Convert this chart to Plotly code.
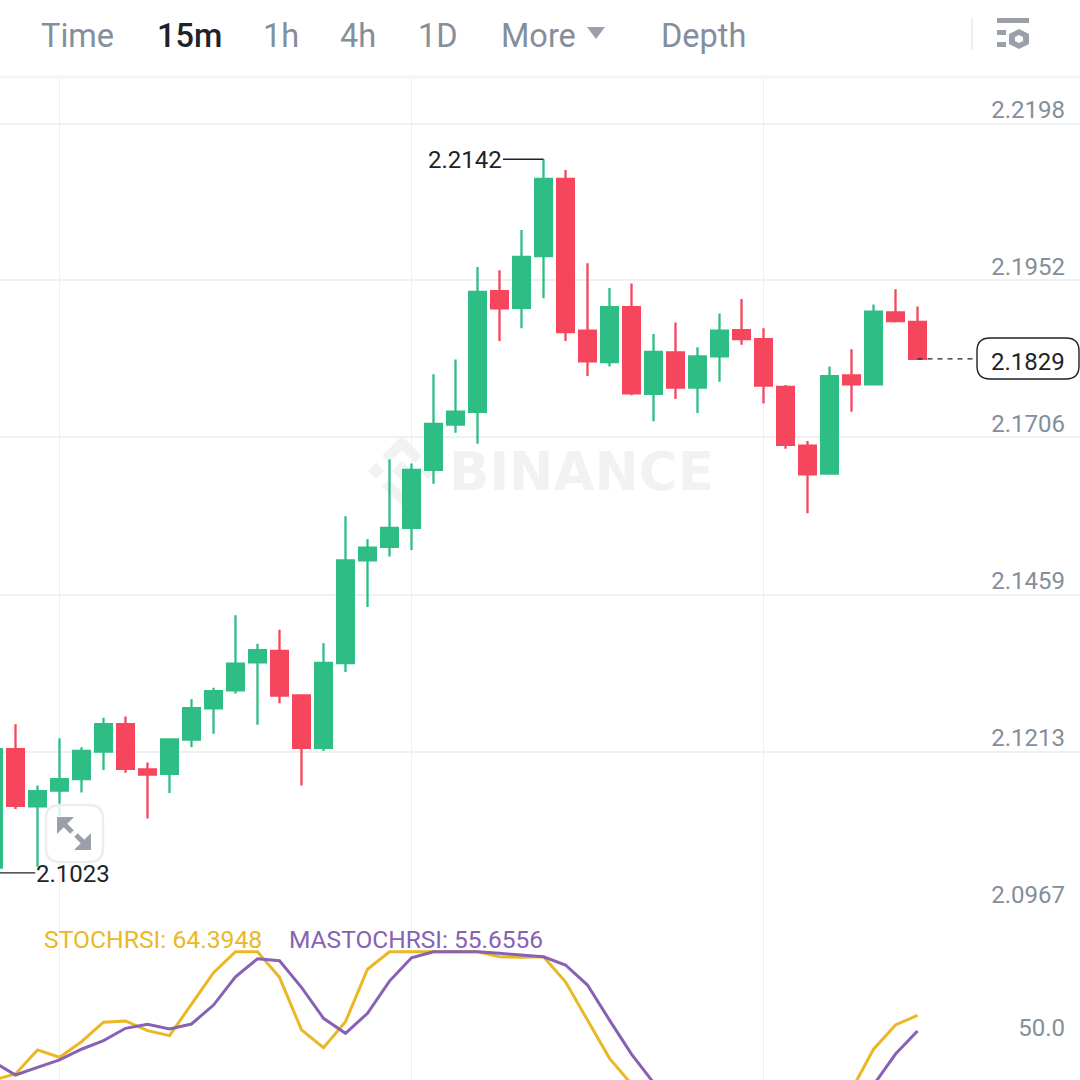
import plotly.graph_objects as go

opens = [2.1031, 2.1217, 2.1127, 2.1152, 2.1170, 2.1213, 2.1256, 2.1185, 2.1178, 2.1232, 2.1281,
         2.1309, 2.1353, 2.1371, 2.1301, 2.1219, 2.1352, 2.1513, 2.1534, 2.1564, 2.1655, 2.1726,
         2.1746, 2.1935, 2.1909, 2.1990, 2.2111, 2.1873, 2.1824, 2.1910, 2.1774, 2.1839, 2.1784,
         2.1833, 2.1874, 2.1860, 2.1785, 2.1693, 2.1649, 2.1803, 2.1789, 2.1902, 2.1887]
highs = [2.1225, 2.1256, 2.1160, 2.1234, 2.1220, 2.1266, 2.1268, 2.1196, 2.1233, 2.1295, 2.1313,
         2.1427, 2.1382, 2.1404, 2.1301, 2.1383, 2.1582, 2.1546, 2.1671, 2.1665, 2.1805, 2.1828,
         2.1973, 2.1968, 2.2031, 2.2142, 2.2125, 2.1979, 2.1940, 2.1947, 2.1868, 2.1886, 2.1847,
         2.1900, 2.1923, 2.1877, 2.1788, 2.1700, 2.1817, 2.1844, 2.1914, 2.1938, 2.1911]
lows = [2.1023, 2.1123, 2.1033, 2.1112, 2.1149, 2.1184, 2.1180, 2.1108, 2.1148, 2.1220, 2.1241,
        2.1304, 2.1255, 2.1289, 2.1160, 2.1214, 2.1338, 2.1440, 2.1519, 2.1529, 2.1633, 2.1713,
        2.1696, 2.1857, 2.1877, 2.1924, 2.1857, 2.1802, 2.1817, 2.1772, 2.1731, 2.1766, 2.1744,
        2.1793, 2.1851, 2.1759, 2.1688, 2.1587, 2.1649, 2.1746, 2.1789, 2.1886, 2.1829]
closes = [2.1217, 2.1128, 2.1151, 2.1170, 2.1214, 2.1256, 2.1186, 2.1177, 2.1232, 2.1281, 2.1308,
          2.1351, 2.1372, 2.1301, 2.1219, 2.1352, 2.1513, 2.1533, 2.1564, 2.1655, 2.1727, 2.1746,
          2.1934, 2.1908, 2.1989, 2.2111, 2.1871, 2.1825, 2.1910, 2.1775, 2.1840, 2.1784, 2.1833,
          2.1873, 2.1860, 2.1787, 2.1694, 2.1648, 2.1802, 2.1789, 2.1903, 2.1888, 2.1829]

stochrsi = [28.3, 31.7, 45.1, 41.0, 49.7, 60.6, 61.3, 55.9, 53.1, 70.8, 88.3, 100, 100, 85.7, 56.3,
            46.4, 60.9, 90.2, 100, 100, 100, 100, 100, 97.2, 96.9, 97.2, 83.2, 61.8, 40.4, 26.0,
            12.0, 5.0, 0, 0, 0, 0, 0, 0, 6.0, 22.7, 45.5, 59.1, 64.3948]
mastochrsi = [38.5, 31.1, 35.4, 39.5, 45.5, 50.3, 57.2, 59.4, 56.8, 59.6, 70.2, 86.0, 96.1, 95.0, 80.1,
              62.8, 54.4, 65.6, 83.6, 96.6, 100, 100, 100, 99.1, 98.2, 97.2, 92.6, 81.4, 61.8, 42.8,
              26.8, 14.0, 6.0, 2.0, 0, 0, 0, 2.0, 4.0, 12.0, 25.5, 42.8, 55.6556]

price_ticks = [2.2198, 2.1952, 2.1706, 2.1459, 2.1213, 2.0967]
price_labels = ["2.2198", "2.1952", "2.1706", "2.1459", "2.1213", "2.0967"]
time_grid = [3, 19, 35]
menu = [("Time", 78, False), ("15m", 189, True), ("1h", 281, False), ("4h", 358, False),
        ("1D", 438, False), ("More", 538, False), ("Depth", 703, False)]

GREEN = "#2EBD85"
RED = "#F6465D"
GREY = "#848E9C"
DARK = "#1E2329"
GRID = "#EFF0F2"
YELLOW = "#E9B824"
PURPLE = "#8762B3"
ICON = "#9A9FAA"
MARK = "#F1F2F2"
FONT = "Roboto"

x_idx = list(range(len(closes)))


# page pixels -> paper coordinates
def px(x):
    return x / 1080


def py(y):
    return 1 - y / 1080


def poly(points):
    return "M " + " L ".join(f"{px(x):.5f},{py(y):.5f}" for x, y in points) + " Z"


def round_rect(x0, y0, x1, y1, r):
    return (f"M {px(x0 + r):.5f},{py(y0):.5f} L {px(x1 - r):.5f},{py(y0):.5f} "
            f"Q {px(x1):.5f},{py(y0):.5f} {px(x1):.5f},{py(y0 + r):.5f} "
            f"L {px(x1):.5f},{py(y1 - r):.5f} Q {px(x1):.5f},{py(y1):.5f} {px(x1 - r):.5f},{py(y1):.5f} "
            f"L {px(x0 + r):.5f},{py(y1):.5f} Q {px(x0):.5f},{py(y1):.5f} {px(x0):.5f},{py(y1 - r):.5f} "
            f"L {px(x0):.5f},{py(y0 + r):.5f} Q {px(x0):.5f},{py(y0):.5f} {px(x0 + r):.5f},{py(y0):.5f} Z")


def paper_shape(path, fill, line=None, width=0, layer="above"):
    return dict(type="path", xref="paper", yref="paper", path=path, fillcolor=fill, layer=layer,
                line=dict(color=line or "rgba(0,0,0,0)", width=width))


def paper_line(x0, y0, x1, y1, color, width):
    return dict(type="line", xref="paper", yref="paper", x0=px(x0), x1=px(x1), y0=py(y0), y1=py(y1),
                line=dict(color=color, width=width))


def paper_text(text, x, y, color, size, anchor="center", family=FONT, weight=None):
    return dict(text=text, xref="paper", yref="paper", x=px(x), y=py(y), xanchor=anchor, yanchor="middle",
                showarrow=False, font=dict(family=family, color=color, size=size, weight=weight))


fig = go.Figure()

fig.add_trace(go.Candlestick(
    x=x_idx, open=opens, high=highs, low=lows, close=closes,
    increasing=dict(line=dict(color=GREEN, width=2.3), fillcolor=GREEN),
    decreasing=dict(line=dict(color=RED, width=2.3), fillcolor=RED),
    whiskerwidth=0, hoverinfo="skip", yaxis="y"
))
fig.add_trace(go.Scatter(x=x_idx, y=stochrsi, mode="lines", line=dict(color=YELLOW, width=3), yaxis="y2"))
fig.add_trace(go.Scatter(x=x_idx, y=mastochrsi, mode="lines", line=dict(color=PURPLE, width=3), yaxis="y2"))

shapes = [
    # header
    paper_line(0, 77, 1080, 77, "#F4F5F5", 3),
    paper_line(972, 17, 972, 50, "#EDEEF0", 2),
    paper_shape(poly([(587, 27), (605, 27), (596, 39)]), ICON),
    paper_shape(poly([(997, 18), (1029, 18), (1029, 23), (997, 23)]), ICON),
    paper_shape(poly([(997, 30), (1006, 30), (1006, 35), (997, 35)]), ICON),
    paper_shape(poly([(997, 42), (1006, 42), (1006, 47), (997, 47)]), ICON),
    paper_shape(poly([(1019, 29), (1029, 34), (1029, 44), (1019, 49), (1009, 44), (1009, 34)]), ICON),
    paper_shape(poly([(1019, 35), (1023, 37), (1023, 41), (1019, 43), (1015, 41), (1015, 37)]), "#FFFFFF"),
    # watermark logo, under the candles
    paper_shape(poly([(402, 436), (422, 456), (415, 463), (402, 450), (389, 463), (382, 456)]), MARK, layer="below"),
    paper_shape(poly([(402, 506), (422, 486), (415, 479), (402, 492), (389, 479), (382, 486)]), MARK, layer="below"),
    paper_shape(poly([(402, 461), (412, 471), (402, 481), (392, 471)]), MARK, layer="below"),
    paper_shape(poly([(376, 463), (384, 471), (376, 479), (368, 471)]), MARK, layer="below"),
    paper_shape(poly([(428, 463), (436, 471), (428, 479), (420, 471)]), MARK, layer="below"),
    # high, low and last price markers
    dict(type="line", xref="x", yref="y", x0=23.16, x1=25, y0=highs[25], y1=highs[25],
         line=dict(color=DARK, width=1.3)),
    dict(type="line", xref="x", yref="y", x0=0, x1=1.9, y0=lows[0], y1=lows[0],
         line=dict(color=DARK, width=1.3)),
    dict(type="line", xref="x", yref="y", x0=42, x1=44.7, y0=closes[-1], y1=closes[-1],
         line=dict(color=DARK, width=1.2, dash="5px,5px")),
    paper_shape(round_rect(977, 338, 1079, 379, 13), "#FFFFFF", DARK, 1.4),
    # expand button
    paper_shape(round_rect(46, 805, 103, 862, 14), "rgba(255,255,255,0.82)", "#ECEDEF", 2.5),
    paper_shape(poly([(57, 817), (74, 817), (57, 834)]), ICON),
    paper_line(61, 821, 72, 832, ICON, 5),
    paper_shape(poly([(91, 850), (74, 850), (91, 833)]), ICON),
    paper_line(87, 846, 76, 835, ICON, 5),
]

annotations = [
    paper_text("<b>BINANCE</b>", 581, 471, MARK, 53, family="DejaVu Sans, sans-serif"),
    paper_text("STOCHRSI: 64.3948", 42, 939, YELLOW, 24.7, anchor="left"),
    paper_text("MASTOCHRSI: 55.6556", 287, 939, PURPLE, 24.5, anchor="left"),
    paper_text("2.1829", 1028, 362, DARK, 24),
    dict(text="2.2142", x=23.16, y=highs[25], xref="x", yref="y", xanchor="right", yanchor="middle",
         xshift=1, yshift=-1, showarrow=False, font=dict(family=FONT, color=DARK, size=24)),
    dict(text="2.1023", x=1.9, y=lows[0], xref="x", yref="y", xanchor="left", yanchor="middle",
         xshift=-1.5, yshift=-1, showarrow=False, font=dict(family=FONT, color=DARK, size=24)),
]
for label, x, bold in menu:
    annotations.append(paper_text(label, x, 36, DARK if bold else GREY, 32.5, weight=500 if bold else 400))

fig.update_layout(
    width=1080, height=1080,
    margin=dict(l=0, r=0, t=0, b=0),
    paper_bgcolor="#FFFFFF", plot_bgcolor="#FFFFFF",
    showlegend=False, boxgap=0.24, boxgroupgap=0,
    font=dict(family=FONT),
    xaxis=dict(range=[0.2955, 49.386], domain=[0, 1], anchor="y2", rangeslider=dict(visible=False),
               tickmode="array", tickvals=time_grid, showticklabels=False, ticks="",
               showgrid=True, gridcolor=GRID, gridwidth=1.2, zeroline=False, showline=False),
    yaxis=dict(domain=[py(909), py(78)], range=[2.09662, 2.22694], side="right", anchor="x",
               tickmode="array", tickvals=price_ticks, ticktext=price_labels, ticks="",
               ticklabelposition="inside", ticklabelstandoff=12, ticklabelshift=-14,
               tickfont=dict(family=FONT, color=GREY, size=24),
               showgrid=True, gridcolor=GRID, gridwidth=1.5, zeroline=False, showline=False),
    yaxis2=dict(domain=[0, py(909)], range=[28.3, 123.9], side="right", anchor="x",
                tickmode="array", tickvals=[50], ticktext=["50.0"], ticks="",
                ticklabelposition="inside", ticklabelstandoff=12, ticklabelshift=-14,
                tickfont=dict(family=FONT, color=GREY, size=24),
                showgrid=False, zeroline=False, showline=False),
    shapes=shapes,
    annotations=annotations,
)

fig.write_html("out.html", post_script="document.body.style.margin='0'", config={"displayModeBar": False})
